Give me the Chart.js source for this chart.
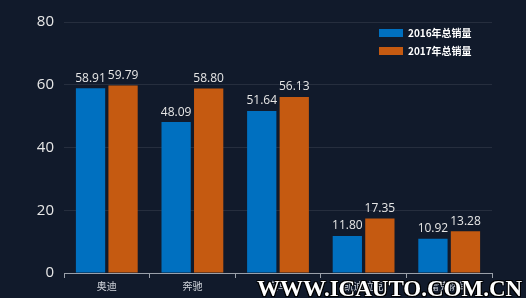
<!DOCTYPE html>
<html><head><meta charset="utf-8">
<script src="https://cdn.jsdelivr.net/npm/chart.js@4/dist/chart.umd.min.js"></script>
<style>
html,body{margin:0;padding:0;background:#111a2b;}
#wrap{position:relative;width:526px;height:298px;overflow:hidden;background:#111a2b;}
canvas{position:absolute;left:0;top:0;}
#legend{position:absolute;left:379px;top:24px;font-family:"Noto Sans CJK SC",sans-serif;font-weight:bold;font-size:10px;color:#fff;}
#legend div{height:18px;line-height:18px;white-space:nowrap;}
#legend span{display:inline-block;width:24px;height:8px;margin-right:5px;vertical-align:-0px;}
#wm{position:absolute;left:257px;top:276px;font-family:"Liberation Serif",serif;font-weight:bold;font-size:23px;color:#fff;letter-spacing:0px;text-shadow:1px 1px 0 #000,-1px -1px 0 #000,1px -1px 0 #000,-1px 1px 0 #000;white-space:nowrap;}
</style></head>
<body><div id="wrap"><canvas id="c" width="526" height="298"></canvas><div id="legend"></div><div id="wm">WWW.ICAUTO.COM.CN</div></div>
<script>
const categories = ["奥迪", "奔驰", "宝马", "凯迪拉克", "雷克萨斯"];
const sales2016 = [58.91, 48.09, 51.64, 11.80, 10.92];
const sales2017 = [59.79, 58.80, 56.13, 17.35, 13.28];
const seriesNames = ["2016年总销量", "2017年总销量"];
const yTicks = [0, 20, 40, 60, 80];
const colors = ["#0070c0", "#c55a11"];

const valueLabels = {
  id: 'valueLabels',
  afterDatasetsDraw(chart) {
    const ctx = chart.ctx;
    ctx.save();
    ctx.font = '12px "Open Sans", "DejaVu Sans", sans-serif';
    ctx.fillStyle = '#e6e6e6';
    ctx.textAlign = 'center';
    ctx.textBaseline = 'bottom';
    chart.data.datasets.forEach((ds, i) => {
      chart.getDatasetMeta(i).data.forEach((bar, j) => {
        ctx.fillText(ds.data[j].toFixed(2), bar.x, bar.y - 4);
      });
    });
    ctx.restore();
  }
};

const chart = new Chart(document.getElementById('c'), {
  type: 'bar',
  data: {
    labels: categories,
    datasets: [
      { label: seriesNames[0], data: sales2016, backgroundColor: colors[0] },
      { label: seriesNames[1], data: sales2017, backgroundColor: colors[1] }
    ]
  },
  options: {
    responsive: false,
    animation: false,
    datasets: { bar: { categoryPercentage: 0.76, barPercentage: 0.9 } },
    layout: { padding: { top: 22, right: 34, left: 0, bottom: 0 } },
    plugins: { legend: { display: false }, tooltip: { enabled: false } },
    scales: {
      x: {
        grid: { display: true, drawOnChartArea: false, drawTicks: true, tickLength: 5, color: '#9aa0aa' },
        border: { display: true, color: '#9aa0aa' },
        ticks: { color: '#cfd3da', font: { size: 10, family: '"Noto Sans CJK SC", sans-serif' }, padding: 2 },
        afterFit(s) { s.height = 25; }
      },
      y: {
        min: 0, max: 80,
        afterBuildTicks(s) { s.ticks = yTicks.map(v => ({ value: v })); },
        grid: { color: 'rgba(255,255,255,0.09)', drawTicks: false },
        border: { display: false },
        ticks: { color: '#e8e8e8', font: { size: 15, family: '"Open Sans", sans-serif' }, padding: 10 },
        afterFit(s) { s.width = 64; }
      }
    }
  },
  plugins: [valueLabels]
});

const lg = document.getElementById('legend');
seriesNames.forEach((n, i) => {
  const d = document.createElement('div');
  const sw = document.createElement('span');
  sw.style.background = colors[i];
  d.appendChild(sw);
  d.appendChild(document.createTextNode(n));
  lg.appendChild(d);
});
</script></body></html>
